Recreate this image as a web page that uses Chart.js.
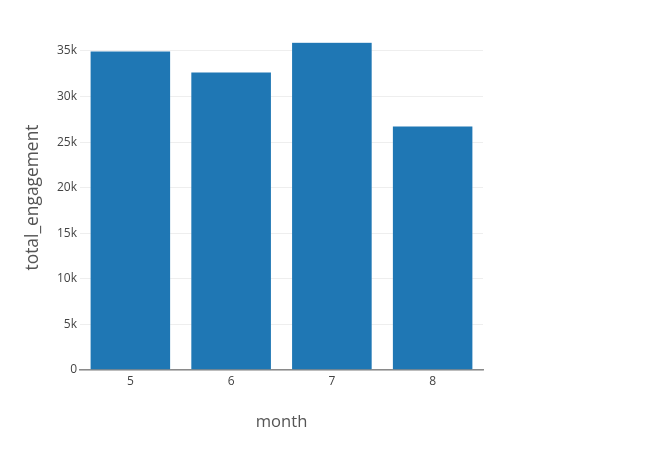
<!DOCTYPE html>
<html lang="en">

<head>
    <meta charset="UTF-8">
    <title>total_engagement by month</title>
    <style>
        html, body { margin: 0; padding: 0; background: #fff; }
        #wrap { width: 660px; height: 450px; }
    </style>
</head>

<body>
    <div id="wrap">
        <canvas id="myChart" width="660" height="450"></canvas>
    </div>

    <script src="https://cdn.jsdelivr.net/npm/chart.js"></script>
    <script>
        // values
        const months = ['5', '6', '7', '8'];
        const engagement = [35000, 32700, 35950, 26760];
        const yTicks = [0, 5000, 10000, 15000, 20000, 25000, 30000, 35000];
        const yMax = 37850;

        const ctx = document.getElementById('myChart');

        new Chart(ctx, {
            type: 'bar',
            data: {
                labels: months,
                datasets: [{
                    label: 'total_engagement',
                    data: engagement,
                    backgroundColor: '#1f77b4',
                    borderColor: 'rgba(255,255,255,0.6)',
                    borderWidth: 0.5,
                    barPercentage: 0.8,
                    categoryPercentage: 1.0
                }]
            },
            options: {
                responsive: false,
                animation: false,
                layout: {
                    padding: { top: 25, right: 177, left: 0, bottom: 0 }
                },
                plugins: {
                    legend: { display: false },
                    tooltip: { enabled: false }
                },
                scales: {
                    x: {
                        grid: { display: false, drawTicks: false },
                        border: { color: '#8a8a8a', width: 1.5 },
                        ticks: {
                            color: '#444',
                            padding: 4,
                            font: { family: 'Open Sans', size: 12 }
                        },
                        title: {
                            display: true,
                            text: 'month',
                            color: '#555',
                            padding: { top: 18, bottom: 18 },
                            font: { family: 'Open Sans', size: 16.6 }
                        },
                        afterFit: function (scale) { scale.height = 80; }
                    },
                    y: {
                        min: 0,
                        max: yMax,
                        afterBuildTicks: function (scale) {
                            scale.ticks = yTicks.map(function (v) { return { value: v }; });
                        },
                        grid: { color: '#eeeeee', lineWidth: 1, drawTicks: false },
                        border: { display: false },
                        ticks: {
                            color: '#444',
                            padding: 3,
                            font: { family: 'Open Sans', size: 12 },
                            callback: function (v) { return v === 0 ? '0' : (v / 1000) + 'k'; }
                        },
                        title: {
                            display: true,
                            text: 'total_engagement',
                            color: '#555',
                            padding: { top: 23, bottom: 0 },
                            font: { family: 'Open Sans', size: 17.4 }
                        },
                        afterFit: function (scale) { scale.width = 80; }
                    }
                }
            }
        });
    </script>
</body>

</html>
